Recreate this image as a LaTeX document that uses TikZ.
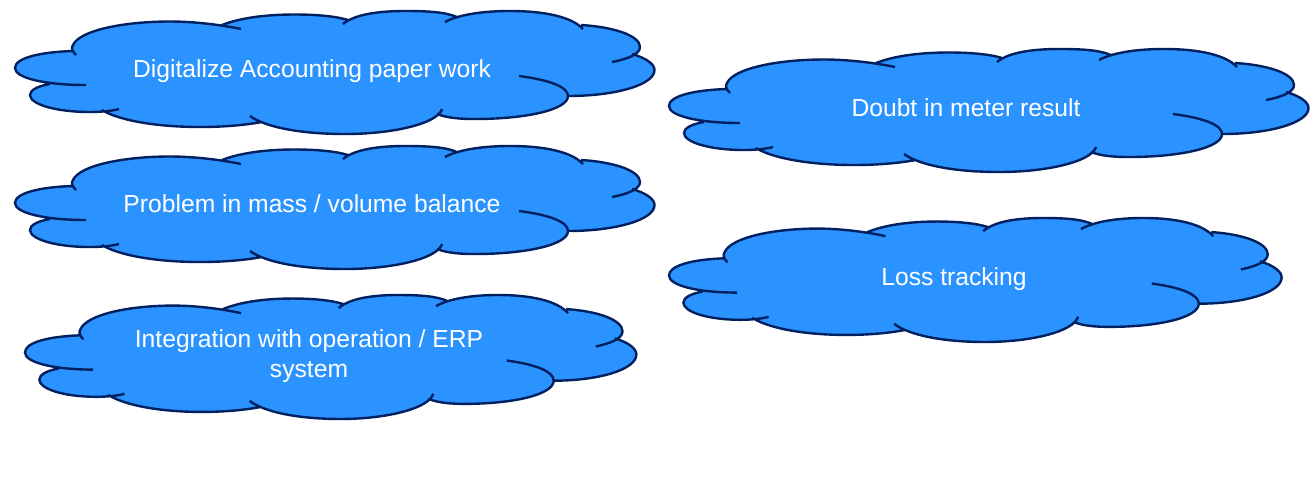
\documentclass[tikz,border=0pt]{standalone}
\usepackage{fontspec}
\setmainfont{Liberation Sans}
\usetikzlibrary{positioning}
\definecolor{cloudblue}{rgb}{0.165,0.576,1.00}
\definecolor{cloudline}{rgb}{0.00,0.125,0.376}
\newcommand{\cloudpath}[1]{(76,55) .. controls (72,51) and (71,48) .. (73,45) .. controls (80,30) and (125,21.5) .. (170,21.5) .. controls (195,21.5) and (222,25) .. (241,29)
 #1 (222,25) .. controls (240,18) and (265,14.5) .. (295,14.5) .. controls (315,14.5) and (335,16) .. (348,20)
 #1 (343,24) .. controls (355,14) and (380,11) .. (405,11) .. controls (428,11) and (445,12) .. (457,17)
 #1 (445,22) .. controls (460,14) and (485,11) .. (510,11) .. controls (545,11) and (572,17) .. (583,29)
 #1 (581,25) .. controls (615,27) and (640,36) .. (640,47) .. controls (640,54) and (628,59) .. (612,62)
 #1 (632,54) .. controls (646,58) and (654.5,64) .. (654.5,70) .. controls (654.5,85) and (615,96) .. (568,96)
 #1 (519,76) .. controls (550,80) and (568,87) .. (568,96) .. controls (568,110) and (525,119) .. (475,119) .. controls (460,119) and (447,118) .. (437,114)
 #1 (442,109) .. controls (438,123) and (395,134) .. (345,134) .. controls (300,134) and (265,127) .. (250,116)
 #1 (262,122) .. controls (245,125) and (225,127) .. (200,127) .. controls (155,127) and (118,120) .. (102,110)
 #1 (119,109) .. controls (112,111) and (100,112) .. (90,112) .. controls (55,112) and (30,104) .. (30,95) .. controls (30,90) and (38,86) .. (50,84)
 #1 (86,85) .. controls (45,85) and (15,78) .. (15,68) .. controls (15,58) and (40,52) .. (73,51)}
\tikzset{
  cloudshape/.pic={
    \begin{scope}[shift={(-15,-11)}]
    \fill[cloudblue] \cloudpath{--} -- cycle;
    \draw[cloudline,line width=1.8pt] \cloudpath{};
    \end{scope}
  }
}
\begin{document}
\begin{tikzpicture}[x=.75pt,y=-.75pt,every node/.style={text=white,font=\fontsize{18.5}{22.5}\selectfont,align=center,anchor=base}]
\useasboundingbox (0,0) rectangle (1311,487);
\pic at (15,11) {cloudshape};
\pic at (15,146) {cloudshape};
\pic[xscale=.956,yscale=1.008] at (25,295) {cloudshape};
\pic at (669,49) {cloudshape};
\pic[xscale=.958,yscale=1.008] at (669,218) {cloudshape};

\node (digit) at (312,77.5) {Digitalize Accounting paper work};
\node (balance) at (312,212.5) {Problem in mass / volume balance};
\node (erp) at (309,377) {Integration with operation / ERP\\system};
\node (meter) at (966,116) {Doubt in meter result};
\node (loss) at (954,285) {Loss tracking};
\end{tikzpicture}
\end{document}
